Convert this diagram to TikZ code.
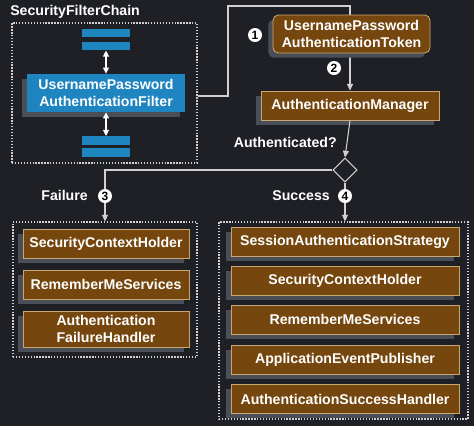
\documentclass[tikz,border=0pt]{standalone}
\usepackage{fontspec}
\setmainfont{Liberation Sans}
\usetikzlibrary{arrows.meta,shapes.geometric,shadows}
\definecolor{bgdark}{RGB}{30,32,37}
\definecolor{filterblue}{RGB}{31,133,192}
\definecolor{boxbrown}{RGB}{117,71,15}
\definecolor{boxedge}{RGB}{200,168,114}
\definecolor{shadowgrey}{RGB}{74,79,87}
\definecolor{linegrey}{RGB}{208,208,208}
\pgfdeclarelayer{back}
\pgfdeclarelayer{bg}
\pgfsetlayers{back,bg,main}
\tikzset{
  brownbox/.style={draw=boxedge, fill=boxbrown, line width=0.6pt, text=white,
    font=\fontsize{10.6}{12.2}\selectfont\bfseries, align=center, inner sep=0pt,
    drop shadow={shadow xshift=-3.5pt, shadow yshift=-3.5pt, fill=shadowgrey, opacity=1}},
  bluebar/.style={fill=filterblue, inner sep=0pt, minimum width=36pt, minimum height=6.4pt},
  groupbox/.style={draw=linegrey, line width=0.8pt, dash pattern=on 1pt off 1.2pt, inner sep=0pt},
  stepnum/.style={circle, fill=white, text=black, inner sep=0pt, minimum size=10.5pt,
    font=\fontsize{9}{9}\selectfont\bfseries},
  flow/.style={draw=linegrey, line width=0.8pt},
  tip/.style={-{Triangle[width=4.5pt,length=5pt]}},
  caption/.style={text=white, font=\fontsize{10.6}{12}\selectfont\bfseries, inner sep=0pt}
}
\begin{document}
\begin{tikzpicture}[x=0.75pt,y=-0.75pt]
\begin{pgfonlayer}{back}
\fill[bgdark] (0,0) rectangle (474,426);
\end{pgfonlayer}
\useasboundingbox (0,0) rectangle (474,426);

% filter chain
\node[caption, anchor=west] (chaintitle) at (10,12) {SecurityFilterChain};
\node[groupbox, minimum width=138.75pt, minimum height=105pt] (chain) at (104.5,93) {};
\node[bluebar] (bar_1) at (106,33) {};
\node[bluebar] (bar_2) at (106,46) {};
\node[brownbox, fill=filterblue, draw=none, minimum width=118.5pt, minimum height=28.5pt] (filter) at (106,93) {UsernamePassword\\AuthenticationFilter};
\node[bluebar] (bar_3) at (106,140.5) {};
\node[bluebar] (bar_4) at (106,152.5) {};
\draw[flow, white, {Triangle[width=4.5pt,length=4.5pt]}-{Triangle[width=4.5pt,length=4.5pt]}] (bar_2.south) -- (filter.north);
\draw[flow, white, {Triangle[width=4.5pt,length=4.5pt]}-{Triangle[width=4.5pt,length=4.5pt]}] (filter.south) -- (bar_3.north);

% authentication
\node[brownbox, rounded corners=4pt, minimum width=117.75pt, minimum height=28.5pt] (token) at (351.5,34) {UsernamePassword\\AuthenticationToken};
\node[brownbox, minimum width=133.5pt, minimum height=21.75pt] (manager) at (350,105.5) {AuthenticationManager};
\node[diamond, draw=linegrey, line width=0.8pt, inner sep=0pt, minimum size=18pt] (decide) at (345,170) {};
\node[caption, anchor=east] (authq) at (337,142) {Authenticated?};

\coordinate (route_1) at (228,96);
\coordinate (route_2) at (350,6);
\begin{pgfonlayer}{bg}
\draw[flow, tip] (chain.east |- route_1) -- (route_1) |- (route_2) -- (manager.north);
\end{pgfonlayer}
\draw[flow, tip] (manager.south) -- (decide.north);

% failure
\node[groupbox, minimum width=138pt, minimum height=101.25pt] (failgroup) at (105,289.5) {};
\node[brownbox, minimum width=124.5pt, minimum height=21.75pt] (fail_1) at (106,243.5) {SecurityContextHolder};
\node[brownbox, minimum width=124.5pt, minimum height=21.75pt] (fail_2) at (106,284.5) {RememberMeServices};
\node[brownbox, minimum width=124.5pt, minimum height=27pt] (fail_3) at (106,329) {Authentication\\FailureHandler};
\draw[flow, tip] (decide.west) -| (failgroup.north);
\node[caption, anchor=east] (faillabel) at (88,195) {Failure};

% success
\node[groupbox, minimum width=186.75pt, minimum height=147.75pt] (succgroup) at (343.5,320.5) {};
\node[brownbox, minimum width=171pt, minimum height=21.75pt] (succ_1) at (345,241.5) {SessionAuthenticationStrategy};
\node[brownbox, minimum width=171pt, minimum height=21.75pt] (succ_2) at (345,280.5) {SecurityContextHolder};
\node[brownbox, minimum width=171pt, minimum height=21.75pt] (succ_3) at (345,319.5) {RememberMeServices};
\node[brownbox, minimum width=171pt, minimum height=21.75pt] (succ_4) at (345,360) {ApplicationEventPublisher};
\node[brownbox, minimum width=171pt, minimum height=21.75pt] (succ_5) at (345,399) {AuthenticationSuccessHandler};
\draw[flow, tip] (decide.south) -- (decide.south |- succgroup.north);
\node[caption, anchor=east] (succlabel) at (330,196) {Success};

% step numbers
\node[stepnum] (step_1) at (255,35) {1};
\node[stepnum] (step_2) at (334,68) {2};
\node[stepnum] (step_3) at (105,196) {3};
\node[stepnum] (step_4) at (345,196) {4};
\end{tikzpicture}
\end{document}
